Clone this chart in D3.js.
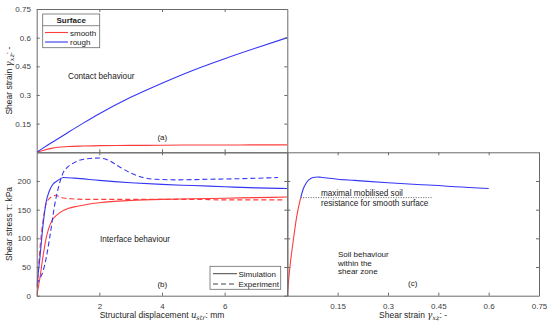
<!DOCTYPE html>
<html><head><meta charset="utf-8">
<script src="https://cdn.jsdelivr.net/npm/d3@7"></script>
<style>
body{margin:0;background:#fff}
svg{display:block;font-family:"Liberation Sans",Arial,sans-serif}
</style></head><body>
<svg id="c" width="550" height="326"></svg>
<script>
// ---- data ----
const contactX = [0, 0.25, 0.5, 1, 1.5, 2, 3, 4, 5, 6, 7, 8];
const contactRough = [0, 0.027, 0.053, 0.104, 0.154, 0.202, 0.288, 0.362, 0.43, 0.49, 0.546, 0.60];
const contactSmooth = [0, 0.012, 0.022, 0.030, 0.033, 0.035, 0.036, 0.037, 0.038, 0.038, 0.039, 0.039];

const simRoughX = [0, 0.1, 0.2, 0.3, 0.4, 0.5, 0.65, 0.85, 1.2, 2, 3, 4, 5, 6, 7, 8];
const simRough = [15, 65, 122, 163, 182, 193, 200, 206, 205, 201, 197, 194, 192, 190, 188, 187];
const expRoughX = [0, 0.1, 0.2, 0.3, 0.42, 0.58, 0.7, 0.85, 1.0, 1.2, 1.5, 2.0, 2.3, 2.6, 3.0, 3.4, 3.8, 4.5, 5.5, 6.5, 7.7];
const expRough = [20, 30, 42, 65, 103, 160, 190, 215, 225, 232, 238, 240, 236, 226, 214, 206, 203, 202, 203, 204, 206];
const simSmoothX = [0, 0.1, 0.2, 0.3, 0.4, 0.5, 0.65, 0.8, 1.0, 1.3, 1.6, 2, 3, 4, 5, 6, 7, 8];
const simSmooth = [0, 30, 68, 100, 120, 132, 141, 147, 152, 156, 159, 162, 166, 168, 169, 170, 171, 172];
const expSmoothX = [0, 0.1, 0.2, 0.3, 0.4, 0.5, 0.6, 0.75, 0.9, 1.1, 1.5, 2, 3, 4, 5, 6, 7, 7.9];
const expSmooth = [0, 80, 130, 160, 169, 173, 175, 172, 170, 169, 168, 168, 168, 168, 168, 167, 167, 167];

const soilSmoothX = [0, 0.008, 0.018, 0.028, 0.04];
const soilSmooth = [0, 51, 97, 138, 171];
const soilRoughX = [0.04, 0.048, 0.056, 0.063, 0.07, 0.077, 0.09, 0.1, 0.15, 0.2, 0.3, 0.4, 0.45, 0.5, 0.6];
const soilRough = [171, 187, 196, 201.5, 204.5, 206, 207, 206.5, 203, 201, 197, 193.5, 192, 190, 187];
const maxSmoothLevel = 171;
const maxSmoothRange = [0.04, 0.43];

const dispTicks = [2, 4, 6];
const strainTicksA = [0.15, 0.3, 0.45, 0.6, 0.75];
const stressTicks = [0, 50, 100, 150, 200];
const strainTicksC = [0.15, 0.3, 0.45, 0.6, 0.75];

// ---- layout ----
const RED = "#ff3c3c", BLUE = "#3535f5", AX = "#6a6a6a", TXT = "#404040";
const svg = d3.select("#c");
const xA = d3.scaleLinear().domain([0, 8]).range([36.7, 287.3]);
const yA = d3.scaleLinear().domain([0, 0.75]).range([152.3, 9]);
const yB = d3.scaleLinear().domain([0, 250]).range([295.7, 152.3]);
const xC = d3.scaleLinear().domain([0, 0.75]).range([287.3, 539]);

const defs = svg.append("defs");
function clip(id, x0, y0, x1, y1) {
  defs.append("clipPath").attr("id", id).append("rect")
    .attr("x", x0).attr("y", y0).attr("width", x1 - x0).attr("height", y1 - y0);
}
clip("ca", xA.range()[0], yA.range()[1], xA.range()[1], yA.range()[0]);
clip("cb", xA.range()[0], yB.range()[1], xA.range()[1], yB.range()[0]);
clip("cc", xC.range()[0], yB.range()[1], xC.range()[1], yB.range()[0]);

function line(g, xs, ys, sx, sy, color, dash) {
  const pts = xs.map((x, i) => [x, ys[i]]);
  g.append("path").datum(pts)
    .attr("d", d3.line().x(d => sx(d[0])).y(d => sy(d[1])).curve(d3.curveMonotoneX))
    .attr("fill", "none").attr("stroke", color).attr("stroke-width", 1.1)
    .attr("stroke-dasharray", dash ? "5,3" : null);
}

// axes helper (inward ticks)
function frame(sx, sy, xt, yt, opts) {
  const g = svg.append("g");
  const [x0, x1] = sx.range(), [y0, y1] = sy.range();
  const L = 3;
  const b = g.append("g").attr("transform", `translate(0,${y0})`)
    .call(d3.axisBottom(sx).tickValues(xt).tickSize(-L).tickSizeOuter(0).tickFormat(opts.xlab ? d3.format("") : ""));
  const t = g.append("g").attr("transform", `translate(0,${y1})`)
    .call(d3.axisTop(sx).tickValues(xt).tickSize(-L).tickSizeOuter(0).tickFormat(""));
  const l = g.append("g").attr("transform", `translate(${x0},0)`)
    .call(d3.axisLeft(sy).tickValues(yt).tickSize(-L).tickSizeOuter(0).tickFormat(opts.ylab ? d3.format("") : ""));
  const r = g.append("g").attr("transform", `translate(${x1},0)`)
    .call(d3.axisRight(sy).tickValues(yt).tickSize(-L).tickSizeOuter(0).tickFormat(""));
  [b, t, l, r].forEach(a => {
    a.select(".domain").attr("stroke", AX);
    a.selectAll(".tick line").attr("stroke", AX);
    a.selectAll("text").attr("fill", TXT).style("font-size", "8px").style("font-family", "Liberation Sans, Arial, sans-serif");
  });
  b.selectAll("text").attr("dy", "1.25em");
  l.selectAll("text").attr("dx", "-0.35em");
  return g;
}

// panel a
const gA = svg.append("g").attr("clip-path", "url(#ca)");
line(gA, contactX, contactSmooth, xA, yA, RED);
line(gA, contactX, contactRough, xA, yA, BLUE);
// panel b
const gB = svg.append("g").attr("clip-path", "url(#cb)");
line(gB, simSmoothX, simSmooth, xA, yB, RED);
line(gB, expSmoothX, expSmooth, xA, yB, RED, true);
line(gB, simRoughX, simRough, xA, yB, BLUE);
line(gB, expRoughX, expRough, xA, yB, BLUE, true);
// panel c
const gC = svg.append("g").attr("clip-path", "url(#cc)");
gC.append("line").attr("x1", xC(maxSmoothRange[0])).attr("x2", xC(maxSmoothRange[1]))
  .attr("y1", yB(maxSmoothLevel)).attr("y2", yB(maxSmoothLevel))
  .attr("stroke", "#333").attr("stroke-width", 0.8).attr("stroke-dasharray", "1,1.5");
line(gC, soilSmoothX, soilSmooth, xC, yB, RED);
line(gC, soilRoughX, soilRough, xC, yB, BLUE);

frame(xA, yA, dispTicks, strainTicksA, {xlab: false, ylab: true});
frame(xA, yB, dispTicks, stressTicks, {xlab: true, ylab: true});
frame(xC, yB, strainTicksC, [50, 100, 150, 200], {xlab: true, ylab: false});

// annotations
function txt(x, y, s, opt = {}) {
  return svg.append("text").attr("x", x).attr("y", y).text(s)
    .attr("fill", opt.fill || "#1a1a1a").style("font-size", (opt.size || 8) + "px")
    .attr("text-anchor", opt.anchor || "start").attr("font-weight", opt.bold ? "bold" : null);
}
txt(68, 79, "Contact behaviour", {size: 8.2});
txt(162.3, 140, "(a)", {anchor: "middle"});
txt(100, 242, "Interface behaviour", {size: 8.2});
txt(162.3, 287, "(b)", {anchor: "middle"});
txt(321, 195.5, "maximal mobilised soil", {size: 8.2});
txt(321, 205.5, "resistance for smooth surface", {size: 8.2});
txt(338, 257, "Soil behaviour");
txt(338, 265.5, "within the");
txt(338, 274, "shear zone");
txt(412.7, 286, "(c)", {anchor: "middle"});

// axis labels
function label(x, y, rot, parts) {
  const t = svg.append("text").attr("transform", `translate(${x},${y}) rotate(${rot})`)
    .attr("text-anchor", "middle").attr("fill", "#262626").style("font-size", "8.5px");
  parts.forEach(p => {
    const s = t.append("tspan").text(p.t);
    if (p.i) s.attr("font-style", "italic").style("font-family", "DejaVu Serif, serif");
    if (p.sub) s.attr("baseline-shift", "-30%").style("font-size", "6.5px");
  });
}
label(162, 318, 0, [{t: "Structural displacement "}, {t: "u", i: true}, {t: "str", sub: true, i: true}, {t: ": mm"}]);
label(413, 318, 0, [{t: "Shear strain  "}, {t: "γ", i: true}, {t: "xz", sub: true, i: true}, {t: ": -"}]);
label(12, 80.6, -90, [{t: "Shear strain  "}, {t: "γ", i: true}, {t: "xz", sub: true, i: true}, {t: ": -"}]);
label(12, 224, -90, [{t: "Shear stress  "}, {t: "τ", i: true}, {t: ": kPa"}]);

// legend 1
const lg1 = svg.append("g");
lg1.append("rect").attr("x", 42.7).attr("y", 14).attr("width", 57).attr("height", 33.7)
  .attr("fill", "#fff").attr("stroke", AX).attr("stroke-width", 0.8);
lg1.append("line").attr("x1", 42.7).attr("x2", 99.7).attr("y1", 25.7).attr("y2", 25.7).attr("stroke", AX).attr("stroke-width", 0.8);
txt(71.2, 23.3, "Surface", {anchor: "middle", bold: true});
const surf = [{n: "smooth", c: RED}, {n: "rough", c: BLUE}];
surf.forEach((s, i) => {
  const y = 32.5 + i * 9.5;
  lg1.append("line").attr("x1", 45).attr("x2", 68).attr("y1", y).attr("y2", y).attr("stroke", s.c).attr("stroke-width", 1.1);
  txt(70, y + 3, s.n);
});
// legend 2
const lg2 = svg.append("g");
lg2.append("rect").attr("x", 210).attr("y", 266.3).attr("width", 70.7).attr("height", 23)
  .attr("fill", "#fff").attr("stroke", AX).attr("stroke-width", 0.8);
const types = [{n: "Simulation", d: false}, {n: "Experiment", d: true}];
types.forEach((s, i) => {
  const y = 273.7 + i * 10.3;
  lg2.append("line").attr("x1", 213).attr("x2", 237).attr("y1", y).attr("y2", y)
    .attr("stroke", "#444").attr("stroke-width", 1).attr("stroke-dasharray", s.d ? "5,3" : null);
  txt(238.5, y + 3, s.n);
});
</script>
</body></html>
